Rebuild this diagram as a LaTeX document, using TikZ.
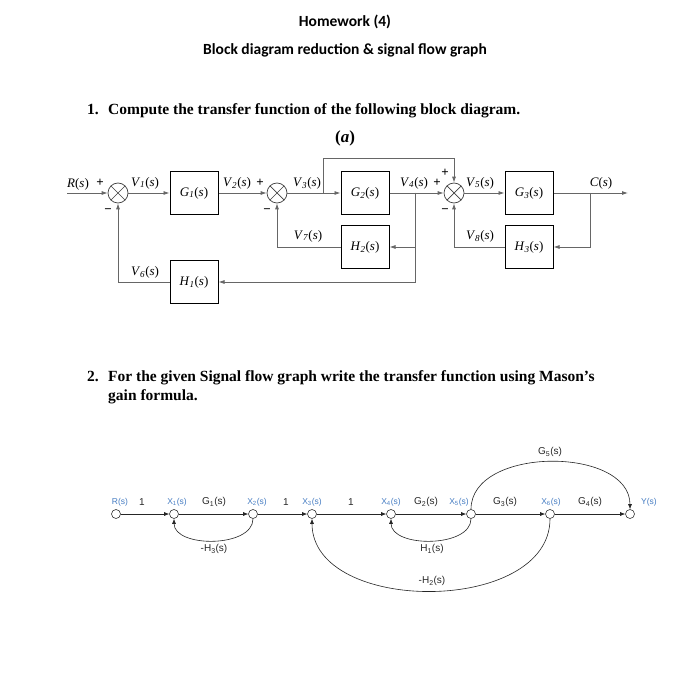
\documentclass[tikz,border=0pt]{standalone}
\usepackage{fontspec}
\setmainfont{Liberation Serif}
\newfontfamily\titlefont{Carlito}
\newfontfamily\sgfont{Liberation Sans}
\usetikzlibrary{arrows.meta}
\definecolor{sgblue}{RGB}{70,125,195}
\definecolor{sgtext}{RGB}{40,40,40}
\newcommand{\bsig}[2]{\textit{#1}\textsubscript{\textit{#2}}(\textit{s})}
\newcommand{\fsig}[2]{#1\textsubscript{#2}(s)}
\begin{document}
\begin{tikzpicture}[x=1pt,y=-1pt,
  blk/.style={draw=black,line width=1pt,minimum width=48pt,minimum height=43pt,inner sep=0pt,font=\fontsize{13}{15}\selectfont},
  sumj/.style={draw=black!75,line width=0.7pt,circle,minimum size=20pt,inner sep=0pt,
     path picture={\draw[black!75,line width=0.7pt] (path picture bounding box.north west)--(path picture bounding box.south east)
       (path picture bounding box.north east)--(path picture bounding box.south west);}},
  wire/.style={draw=black!60,line width=0.8pt},
  arr/.style={wire,-{Latex[length=6pt,width=4pt]}},
  bl/.style={font=\fontsize{13}{15}\selectfont,inner sep=0pt},
  fn/.style={draw=black!80,fill=white,circle,minimum size=9pt,inner sep=0pt,line width=0.6pt},
  fe/.style={draw=black!85,line width=0.6pt,-{Latex[length=5pt,width=4pt]}},
  fl/.style={font=\sgfont\fontsize{10}{12}\selectfont,text=sgtext,inner sep=0pt},
  fb/.style={font=\sgfont\fontsize{8.5}{10}\selectfont,text=sgblue,inner sep=0pt},
  qs/.style={font=\bfseries\fontsize{15.5}{18}\selectfont,anchor=west,inner sep=0pt}
]
\useasboundingbox[fill=white] (0,0) rectangle (691,700);

% headings
\node[font=\titlefont\bfseries\fontsize{15.5}{18}\selectfont] (t1) at (345,22) {Homework (4)};
\node[font=\titlefont\bfseries\fontsize{15.5}{18}\selectfont] (t2) at (345,50) {Block diagram reduction \& signal flow graph};
\node[qs] (q1) at (87,111) {\makebox[21pt][l]{1.}Compute the transfer function of the following block diagram.};
\node[font=\bfseries\fontsize{17}{19}\selectfont,inner sep=0pt] (qa) at (345,138) {(\textit{a})};
\node[qs] (q2) at (87,378) {\makebox[21pt][l]{2.}For the given Signal flow graph write the transfer function using Mason’s};
\node[qs] (q2b) at (108,397) {gain formula.};

% block diagram
\node[sumj] (s1) at (118,193) {};
\node[blk] (g1) at (194,193) {\bsig{G}{1}};
\node[sumj] (s2) at (277,193) {};
\node[blk] (g2) at (365,193) {\bsig{G}{2}};
\node[blk] (h2) at (365,247) {\bsig{H}{2}};
\node[blk] (h1) at (194,282) {\bsig{H}{1}};
\node[sumj] (s3) at (454,193) {};
\node[blk] (g3) at (529,193) {\bsig{G}{3}};
\node[blk] (h3) at (529,247) {\bsig{H}{3}};
\coordinate (rin) at (67,193);
\coordinate (cout) at (628,193);
\coordinate (b3) at (323,193);
\coordinate (top) at (454,158);
\coordinate (b4) at (415,193);
\coordinate (bc) at (590,193);

\draw[arr] (rin) -- (s1);
\draw[arr] (s1) -- (g1);
\draw[arr] (g1) -- (s2);
\draw[arr] (s2) -- (g2);
\draw[arr] (g2) -- (s3);
\draw[arr] (s3) -- (g3);
\draw[arr] (g3) -- (cout);
\draw[arr] (b3) |- (top) -- (s3);
\draw[arr] (b4) |- (h2);
\draw[arr] (b4) |- (h1);
\draw[arr] (h2) -| (s2);
\draw[arr] (h1) -| (s1);
\draw[arr] (bc) |- (h3);
\draw[arr] (h3) -| (s3);

\node[bl] (lr) at (78,184) {\textit{R}(\textit{s})};
\node[bl] (p1) at (100,183) {\bfseries +};
\node[bl] (m1) at (108,211) {\bfseries −};
\node[bl] (lv1) at (145,183) {\bsig{V}{1}};
\node[bl] (lv2) at (237,183) {\bsig{V}{2}};
\node[bl] (p2) at (260,183) {\bfseries +};
\node[bl] (m2) at (267,211) {\bfseries −};
\node[bl] (lv3) at (307,183) {\bsig{V}{3}};
\node[bl] (lv4) at (414,183) {\bsig{V}{4}};
\node[bl] (p3) at (437,183) {\bfseries +};
\node[bl] (p4) at (445,173) {\bfseries +};
\node[bl] (m3) at (445,211) {\bfseries −};
\node[bl] (lv5) at (480,183) {\bsig{V}{5}};
\node[bl] (lc) at (601,183) {\textit{C}(\textit{s})};
\node[bl] (lv6) at (145,272) {\bsig{V}{6}};
\node[bl] (lv7) at (308,236) {\bsig{V}{7}};
\node[bl] (lv8) at (480,236) {\bsig{V}{8}};

% signal flow graph
\node[fn] (r) at (116,514) {};
\node[fn] (x1) at (174,514) {};
\node[fn] (x2) at (253,514) {};
\node[fn] (x3) at (312,514) {};
\node[fn] (x4) at (391,514) {};
\node[fn] (x5) at (471,514) {};
\node[fn] (x6) at (550,514) {};
\node[fn] (y) at (630,514) {};

\draw[fe] (r) -- (x1);
\draw[fe] (x1) -- (x2);
\draw[fe] (x2) -- (x3);
\draw[fe] (x3) -- (x4);
\draw[fe] (x4) -- (x5);
\draw[fe] (x5) -- (x6);
\draw[fe] (x6) -- (y);
\draw[fe] (x2.south) .. controls (253,548) and (174,548) .. (x1.south);
\draw[fe] (x5.south) .. controls (471,548) and (391,548) .. (x4.south);
\draw[fe] (x6.south) .. controls (550,615) and (312,615) .. (x3.south);
\draw[fe] (x5.north) .. controls (471,446) and (630,446) .. (y.north);

\node[fb] (lr2) at (120,502) {R(s)};
\node[fl] (e1) at (142,502) {1};
\node[fb] (lx1) at (177,502) {\fsig{X}{1}};
\node[fl] (eg1) at (214,502) {\fsig{G}{1}};
\node[fb] (lx2) at (257,502) {\fsig{X}{2}};
\node[fl] (e2) at (286,502) {1};
\node[fb] (lx3) at (312,502) {\fsig{X}{3}};
\node[fl] (e3) at (351,502) {1};
\node[fb] (lx4) at (391,502) {\fsig{X}{4}};
\node[fl] (eg2) at (426,502) {\fsig{G}{2}};
\node[fb] (lx5) at (459,502) {\fsig{X}{5}};
\node[fl] (eg3) at (505,502) {\fsig{G}{3}};
\node[fb] (lx6) at (551,502) {\fsig{X}{6}};
\node[fl] (eg4) at (590,502) {\fsig{G}{4}};
\node[fb] (ly) at (649,502) {Y(s)};
\node[fl] (eg5) at (550,452) {\fsig{G}{5}};
\node[fl] (eh3) at (214,549) {-\fsig{H}{3}};
\node[fl] (eh1) at (432,549) {\fsig{H}{1}};
\node[fl] (eh2) at (432,581) {-\fsig{H}{2}};
\end{tikzpicture}
\end{document}
